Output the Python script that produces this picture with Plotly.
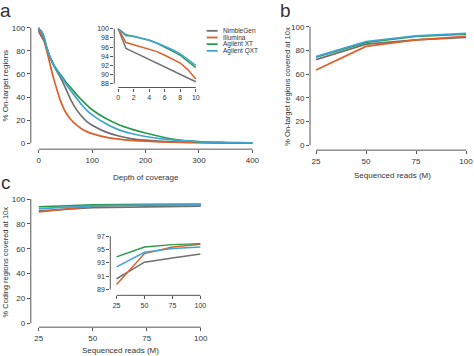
import plotly.graph_objects as go

W, H = 474, 356

# ---------------- data ----------------
series_names = ["NimbleGen", "Illumina", "Agilent XT", "Agilent QXT"]
series_colors = ["#707070", "#DE5F28", "#2A9A4A", "#3FA3D4"]

# Panel a: % on-target regions vs depth of coverage
depth = [0, 1, 2, 3, 4, 5, 6, 7, 8, 9, 10, 15, 20, 25, 30, 35, 40, 50, 60, 70, 80, 90,
         100, 125, 150, 175, 200, 250, 300, 350, 400]
a_nimblegen = [100, 95.7, 94.9, 94.1, 93.3, 92.5, 91.7, 90.8, 90.0, 89.2, 88.4, 82, 75.5, 70, 65.5,
               61.5, 57.5, 48, 37.5, 29.5, 23.5, 18.7, 15.5, 9.8, 6.2, 3.8, 2.6, 1.2, 0.6, 0.3, 0.15]
a_illumina = [100, 97.0, 96.5, 96.0, 95.5, 95.0, 94.2, 93.4, 92.5, 91.0, 89.0, 80, 70.5, 61, 52.5,
              45, 37.5, 27, 20.5, 16, 12.5, 10, 8.3, 5.2, 3.5, 2.4, 1.7, 0.8, 0.4, 0.2, 0.1]
a_agilent_xt = [100, 98.7, 98.3, 97.9, 97.5, 96.8, 96.0, 95.1, 94.2, 92.9, 91.5, 83, 76, 71, 66.5,
                63, 60, 53.5, 48, 42.5, 37.5, 33, 29, 21.5, 16, 12, 8.8, 3.5, 1.2, 0.6, 0.3]
a_agilent_qxt = [100, 98.5, 98.4, 98.0, 97.5, 96.9, 96.2, 95.4, 94.5, 93.3, 92.0, 83, 76, 71, 66,
                 62.5, 59, 52, 45.5, 39.5, 33.5, 28.5, 24.5, 17, 11.5, 8.2, 5.8, 2.8, 1.3, 0.6, 0.3]
inset_depth_max = 10

# Panel b: % on-target regions covered at 10x vs sequenced reads
reads = [25, 50, 75, 100]
b_nimblegen = [72.3, 85.4, 89.0, 91.0]
b_illumina = [63.6, 83.5, 89.0, 91.9]
b_agilent_xt = [74.4, 86.8, 92.0, 93.8]
b_agilent_qxt = [74.8, 87.6, 92.4, 94.5]

# Panel c: % coding regions covered at 10x vs sequenced reads
c_nimblegen = [90.6, 93.1, 93.75, 94.35]
c_illumina = [89.75, 94.4, 95.4, 95.8]
c_agilent_xt = [93.9, 95.4, 95.75, 95.9]
c_agilent_qxt = [92.4, 94.6, 95.15, 95.4]

ticks_a_x = [0, 100, 200, 300, 400]
ticks_pct = [0, 20, 40, 60, 80, 100]
ticks_inset_a_x = [0, 2, 4, 6, 8, 10]
ticks_inset_a_y = [88, 90, 92, 94, 96, 98, 100]
ticks_reads = [25, 50, 75, 100]
ticks_inset_c_y = [89, 91, 93, 95, 97]

# ---------------- figure ----------------
fig = go.Figure()
FONT = "Liberation Sans, Arial, Helvetica, sans-serif"

a_series = [a_nimblegen, a_illumina, a_agilent_xt, a_agilent_qxt]
b_series = [b_nimblegen, b_illumina, b_agilent_xt, b_agilent_qxt]
c_series = [c_nimblegen, c_illumina, c_agilent_xt, c_agilent_qxt]

n_in = depth.index(inset_depth_max) + 1
for i in range(4):
    col = series_colors[i]
    fig.add_trace(go.Scatter(x=depth, y=a_series[i], mode="lines", name=series_names[i],
                             line=dict(color=col, width=1.7, shape="spline", smoothing=0.6),
                             xaxis="x", yaxis="y", showlegend=False))
    fig.add_trace(go.Scatter(x=depth[:n_in], y=a_series[i][:n_in], mode="lines",
                             line=dict(color=col, width=1.5), xaxis="x2", yaxis="y2", showlegend=False))
    fig.add_trace(go.Scatter(x=reads, y=b_series[i], mode="lines",
                             line=dict(color=col, width=1.7), xaxis="x3", yaxis="y3", showlegend=False))
    fig.add_trace(go.Scatter(x=reads, y=c_series[i], mode="lines",
                             line=dict(color=col, width=1.7), xaxis="x4", yaxis="y4", showlegend=False))
    fig.add_trace(go.Scatter(x=reads, y=c_series[i], mode="lines",
                             line=dict(color=col, width=1.5), xaxis="x5", yaxis="y5", showlegend=False))


def px_x(p):
    return p / W


def px_y(p):
    return 1 - p / H


def axis(domain, rng, tickvals, size=8, anchor=None):
    d = dict(domain=domain, range=rng, tickvals=tickvals, ticks="outside", ticklen=3,
             tickwidth=1, tickcolor="#555", showgrid=False, zeroline=False, showline=False,
             ticklabeloverflow="allow",
             tickfont=dict(family=FONT, size=size, color="#333"), fixedrange=True)
    if anchor:
        d["anchor"] = anchor
    return d


layout_axes = {
    # panel a main
    "xaxis": axis([px_x(31), px_x(262)], [-14.9, 414.9], ticks_a_x, anchor="y"),
    "yaxis": axis([px_y(149), px_y(22)], [-5.2, 104.3], ticks_pct, anchor="x"),
    # panel a inset
    "xaxis2": axis([px_x(115), px_x(201)], [-0.51, 10.51], ticks_inset_a_x, size=7, anchor="y2"),
    "yaxis2": axis([px_y(87), px_y(25)], [87.13, 100.65], ticks_inset_a_y, size=7, anchor="x2"),
    # panel b
    "xaxis3": axis([px_x(312), 1.0], [22.0, 102.5], ticks_reads, anchor="y3"),
    "yaxis3": axis([px_y(150), px_y(21)], [-4.2, 104.2], ticks_pct, anchor="x3"),
    # panel c main
    "xaxis4": axis([px_x(31), px_x(209)], [21.3, 103.2], ticks_reads, anchor="y4"),
    "yaxis4": axis([px_y(328), px_y(194)], [-3.2, 104.25], ticks_pct, anchor="x4"),
    # panel c inset
    "xaxis5": axis([px_x(111), px_x(205)], [19.4, 103.0], ticks_reads, size=7, anchor="y5"),
    "yaxis5": axis([px_y(296), px_y(234)], [88.1, 97.4], ticks_inset_c_y, size=7, anchor="x5"),
}

# R-style axis lines spanning first to last tick
shapes = []
pairs = [("x", "y", ticks_a_x, ticks_pct), ("x2", "y2", ticks_inset_a_x, ticks_inset_a_y),
         ("x3", "y3", ticks_reads, ticks_pct), ("x4", "y4", ticks_reads, ticks_pct),
         ("x5", "y5", ticks_reads, ticks_inset_c_y)]
for xa, ya, tx, ty in pairs:
    shapes.append(dict(type="line", xref=xa, yref=f"{ya} domain", x0=tx[0], x1=tx[-1], y0=0, y1=0,
                       line=dict(color="#555", width=1)))
    shapes.append(dict(type="line", xref=f"{xa} domain", yref=ya, x0=0, x1=0, y0=ty[0], y1=ty[-1],
                       line=dict(color="#555", width=1)))

annotations = []
# legend (manual, compact as in the reference)
for i, name in enumerate(series_names):
    yy = px_y(30 + 6.7 * i)
    shapes.append(dict(type="line", xref="paper", yref="paper", x0=px_x(208), x1=px_x(219),
                       y0=yy, y1=yy, line=dict(color=series_colors[i], width=1.8)))
    annotations.append(dict(xref="paper", yref="paper", x=px_x(222), y=yy, xanchor="left",
                            yanchor="middle", text=name, showarrow=False,
                            font=dict(family=FONT, size=6.5, color="#333")))


def label(text, x, y, size=8, angle=0):
    annotations.append(dict(xref="paper", yref="paper", x=px_x(x), y=px_y(y), text=text,
                            showarrow=False, textangle=angle, xanchor="center", yanchor="middle",
                            font=dict(family=FONT, size=size, color="#333")))


label("Depth of coverage", 147, 177)
label("% On-target regions", 6, 85, angle=-90)
label("% On-target regions covered at 10x", 289, 86, size=7.5, angle=-90)
label("Sequenced reads (M)", 395, 175)
label("% Coding regions covered at 10x", 6, 262, size=7.5, angle=-90)
label("Sequenced reads (M)", 121, 351)
label("a", 6, 10, size=19)
label("b", 287, 10, size=19)
label("c", 6, 183, size=19)

fig.update_layout(width=W, height=H, margin=dict(l=0, r=0, t=0, b=0),
                  paper_bgcolor="white", plot_bgcolor="white", showlegend=False,
                  shapes=shapes, annotations=annotations, **layout_axes)

fig.write_html("out.html", config={"displayModeBar": False},
               post_script="document.body.style.margin='0';document.body.style.overflow='hidden';")
